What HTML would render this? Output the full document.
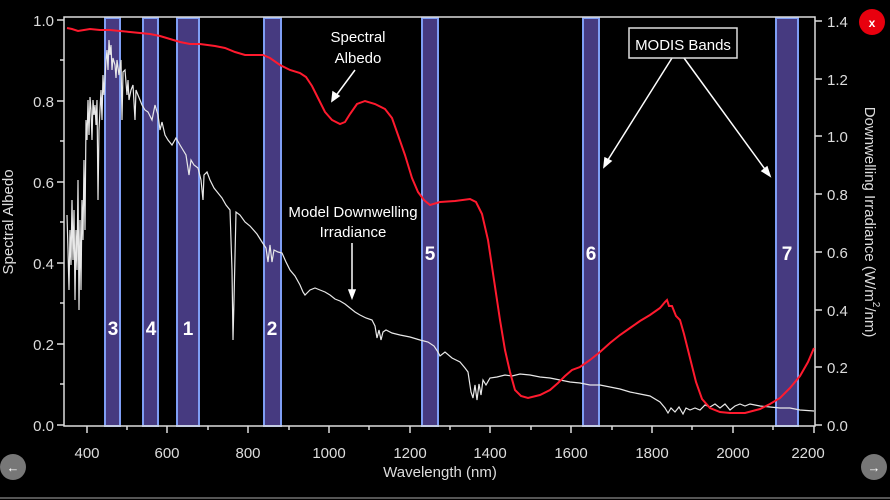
<!DOCTYPE html>
<html><head><meta charset="utf-8"><style>
html,body{margin:0;padding:0;background:#000;width:890px;height:500px;overflow:hidden}
svg{display:block;font-family:"Liberation Sans",sans-serif}
</style></head><body>
<svg width="890" height="500" viewBox="0 0 890 500">
<rect width="890" height="500" fill="#000"/>
<!-- bands -->
<g fill="#463a80" stroke="#7f9ef5" stroke-width="2">
<rect x="105" y="18" width="15" height="408"/>
<rect x="143" y="18" width="15" height="408"/>
<rect x="177" y="18" width="22" height="408"/>
<rect x="264" y="18" width="17" height="408"/>
<rect x="422" y="18" width="16" height="408"/>
<rect x="583" y="18" width="16" height="408"/>
<rect x="776" y="18" width="22" height="408"/>
</g>
<g fill="#fff" font-size="19" font-weight="bold" text-anchor="middle">
<text x="113" y="335">3</text><text x="151" y="335">4</text><text x="188" y="335">1</text>
<text x="272" y="335">2</text><text x="430" y="260">5</text><text x="591" y="260">6</text><text x="787" y="260">7</text>
</g>
<!-- frame -->
<rect x="64" y="17" width="751" height="409" fill="none" stroke="#ddd" stroke-width="1.5"/>
<!-- white irradiance -->
<polyline fill="none" stroke="#e8e8e8" stroke-width="1.2" points="67,215 68,250 69,290 70,230 71,265 72,200 73,260 74,210 75,300 76,230 77,270 78,180 79,310 80,220 81,290 82,200 83,240 84,160 85,230 86,120 87,140 88,100 89,135 90,97 91,110 92,140 93,100 94,115 95,105 96,125 97,100 98,200 99,130 100,110 101,90 102,120 103,75 104,95 106,60 107,50 108,70 109,40 110,55 111,45 112,70 113,58 115,65 116,78 117,60 119,75 121,60 122,120 123,72 125,70 127,95 128,80 129,100 131,90 133,85 135,120 136,90 138,95 140,100 142,105 145,110 148,112 152,120 155,105 158,115 160,130 162,122 165,135 168,140 172,145 176,138 180,145 183,150 186,155 189,175 191,160 194,165 198,168 201,180 203,200 204,175 207,172 210,180 214,188 218,193 222,198 226,205 230,210 232,270 233,340 234,300 236,212 240,215 245,222 250,226 257,234 262,242 266,248 268,262 270,245 272,262 274,250 278,252 282,253 286,262 290,270 295,276 300,285 303,292 305,295 310,290 315,288 320,290 325,292 330,295 335,299 340,301 345,304 350,308 355,312 360,315 366,318 372,320 375,326 377,338 379,330 381,340 383,332 386,330 392,333 400,335 410,337 420,340 428,342 434,346 438,352 440,356 445,352 452,358 460,362 465,368 468,372 471,392 473,398 475,385 477,400 479,384 481,395 483,380 486,385 490,378 497,377 505,375 512,376 520,374 530,375 540,377 550,378 560,380 570,382 580,383 590,385 600,385 610,387 620,389 630,392 640,394 650,396 660,402 665,408 668,413 671,408 675,412 679,407 683,414 686,408 690,410 695,408 700,410 705,405 710,407 715,404 720,408 725,404 730,410 735,406 740,404 745,406 750,404 760,406 770,407 780,408 790,408 800,410 814,411"/>
<!-- red albedo -->
<polyline fill="none" stroke="#ff1a2e" stroke-width="2" points="67,28 72,29 78,31 84,30 90,29 100,30 110,30 120,31 130,32 140,33 150,34 160,36 170,39 180,42 190,44 200,44 215,46 225,48 235,52 245,55 255,55 263,55 270,58 280,65 290,70 300,73 306,77 312,86 318,98 325,112 332,120 340,124 345,122 350,114 357,104 365,101 375,104 385,109 392,118 398,135 405,155 412,178 418,192 424,200 430,205 440,202 455,201 470,199 476,202 482,214 488,240 494,280 500,320 505,350 510,372 515,390 521,396 528,398 540,395 550,390 558,383 565,376 572,370 580,367 590,360 600,352 610,343 620,335 630,328 640,321 650,315 660,308 665,302 667,300 669,306 672,306 676,316 680,320 684,334 690,358 696,382 702,399 710,408 720,412 730,413 745,413 760,409 770,404 780,398 790,388 800,376 808,362 814,348"/>
<!-- axes ticks -->
<g stroke="#ddd" stroke-width="1.5">
<line x1="57" y1="20" x2="64" y2="20"/><line x1="57" y1="101" x2="64" y2="101"/><line x1="57" y1="182" x2="64" y2="182"/><line x1="57" y1="263" x2="64" y2="263"/><line x1="57" y1="344" x2="64" y2="344"/><line x1="57" y1="425" x2="64" y2="425"/>
<line x1="60" y1="60" x2="64" y2="60"/><line x1="60" y1="141" x2="64" y2="141"/><line x1="60" y1="222" x2="64" y2="222"/><line x1="60" y1="303" x2="64" y2="303"/><line x1="60" y1="384" x2="64" y2="384"/>
<line x1="815" y1="21" x2="822" y2="21"/><line x1="815" y1="79" x2="822" y2="79"/><line x1="815" y1="136" x2="822" y2="136"/><line x1="815" y1="194" x2="822" y2="194"/><line x1="815" y1="252" x2="822" y2="252"/><line x1="815" y1="310" x2="822" y2="310"/><line x1="815" y1="367" x2="822" y2="367"/><line x1="815" y1="425" x2="822" y2="425"/>
</g>
<g stroke="#ddd" stroke-width="1.5">
<line x1="87" y1="426" x2="87" y2="433"/><line x1="167" y1="426" x2="167" y2="433"/><line x1="248" y1="426" x2="248" y2="433"/><line x1="329" y1="426" x2="329" y2="433"/><line x1="410" y1="426" x2="410" y2="433"/><line x1="490" y1="426" x2="490" y2="433"/><line x1="571" y1="426" x2="571" y2="433"/><line x1="652" y1="426" x2="652" y2="433"/><line x1="733" y1="426" x2="733" y2="433"/><line x1="814" y1="426" x2="814" y2="433"/>
<line x1="127" y1="426" x2="127" y2="430"/><line x1="208" y1="426" x2="208" y2="430"/><line x1="289" y1="426" x2="289" y2="430"/><line x1="369" y1="426" x2="369" y2="430"/><line x1="450" y1="426" x2="450" y2="430"/><line x1="531" y1="426" x2="531" y2="430"/><line x1="612" y1="426" x2="612" y2="430"/><line x1="692" y1="426" x2="692" y2="430"/><line x1="773" y1="426" x2="773" y2="430"/>
</g>
<g fill="#ddd" font-size="15" text-anchor="end">
<text x="54" y="26">1.0</text><text x="54" y="107">0.8</text><text x="54" y="188">0.6</text><text x="54" y="269">0.4</text><text x="54" y="350">0.2</text><text x="54" y="431">0.0</text>
</g>
<g fill="#ddd" font-size="15" text-anchor="start">
<text x="827" y="27">1.4</text><text x="827" y="85">1.2</text><text x="827" y="142">1.0</text><text x="827" y="200">0.8</text><text x="827" y="258">0.6</text><text x="827" y="316">0.4</text><text x="827" y="373">0.2</text><text x="827" y="431">0.0</text>
</g>
<g fill="#ddd" font-size="15" text-anchor="middle">
<text x="87" y="458">400</text><text x="167" y="458">600</text><text x="248" y="458">800</text><text x="329" y="458">1000</text><text x="410" y="458">1200</text><text x="490" y="458">1400</text><text x="571" y="458">1600</text><text x="652" y="458">1800</text><text x="733" y="458">2000</text><text x="808" y="458">2200</text>
<text x="440" y="477">Wavelength (nm)</text>
<text transform="translate(13,222) rotate(-90)">Spectral Albedo</text>
<text transform="translate(865,222) rotate(90)">Downwelling Irradiance (W/m<tspan font-size="10" dy="-8">2</tspan><tspan dy="8">/nm)</tspan></text>
</g>
<!-- annotations -->
<g fill="#fff" font-size="15" text-anchor="middle">
<text x="358" y="42">Spectral</text><text x="358" y="63">Albedo</text>
<text x="353" y="217">Model Downwelling</text><text x="353" y="237">Irradiance</text>
</g>
<g stroke="#fff" stroke-width="1.5" fill="#fff">
<line x1="355" y1="70" x2="335" y2="97"/><polygon points="332,101 333,92 339,96"/>
<line x1="352" y1="243" x2="352" y2="293"/><polygon points="352,298 349,290 355,290"/>
<line x1="672" y1="58" x2="606" y2="163"/><polygon points="604,167 605,158 611,161"/>
<line x1="684" y1="58" x2="767" y2="172"/><polygon points="770,176 762,171 767,167"/>
</g>
<rect x="629" y="28" width="108" height="30" fill="#000" stroke="#ddd" stroke-width="1.5"/>
<text x="683" y="50" fill="#fff" font-size="15" text-anchor="middle">MODIS Bands</text>
<!-- buttons -->
<circle cx="872" cy="22" r="13" fill="#e8000e"/>
<text x="872" y="27" fill="#fff" font-size="12" font-weight="bold" text-anchor="middle">x</text>
<circle cx="13" cy="467" r="13" fill="#777"/>
<text x="13" y="472" fill="#fff" font-size="13" font-weight="bold" text-anchor="middle">←</text>
<circle cx="874" cy="467" r="13" fill="#777"/>
<text x="874" y="472" fill="#fff" font-size="13" font-weight="bold" text-anchor="middle">→</text>
<line x1="0" y1="498" x2="890" y2="498" stroke="#555" stroke-width="2"/>
</svg>
</body></html>
